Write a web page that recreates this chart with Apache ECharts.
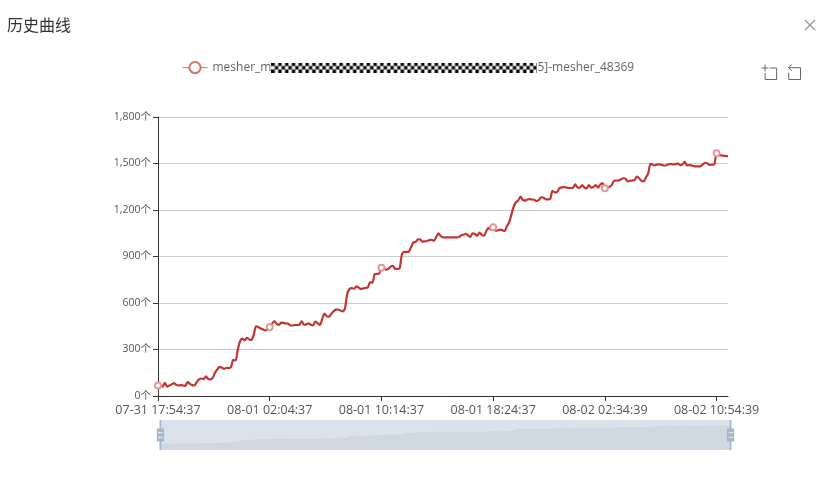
<!DOCTYPE html>
<html><head><meta charset="utf-8">
<style>html,body{margin:0;padding:0;background:#fff}#c{width:836px;height:488px}</style>
<script src="https://cdn.jsdelivr.net/npm/echarts@6/dist/echarts.min.js"></script>
</head><body><div id="c"></div>
<script>
const titleText = '历史曲线';
const seriesName = 'mesher_m…5]-mesher_48369';
const legendHead = 'mesher_m';
const legendTail = '5]-mesher_48369';
const startLabel = '2024-07-31T17:54:37';
const yTicks = [0, 300, 600, 900, 1200, 1500, 1800];
const values0 = [68,68,60,85,60,68,75,83,72,68,70,68,65,92,78,70,68,90,107,113,109,126,110,107,118,150,171,188,184,175,182,180,186,233,228,300,353,370,360,375,365,362,396,450,445,436,430,424,430];
const values1 = [445,465,484,465,458,474,472,468,467,456,455,458,458,460,482,460,462,469,460,456,480,470,458,495,531,514,512,530,546,557,558,552,546,565,660,690,696,692,707,700,690,694,698,700,735,730,785,788,790,827,825,815,820,835,840,820,820,825,915,930,930,932,960,990,994,1010,1010,996,998,1000,1006,1008,1000,1025,1050,1032,1023,1023,1023,1023,1023,1023,1023,1025,1038,1040,1046,1035,1027,1050,1045,1034,1055,1040,1034,1065,1085,1074,1089,1066];
const values2 = [1068,1074,1070,1064,1095,1120,1170,1222,1250,1262,1287,1265,1260,1268,1270,1268,1266,1258,1265,1282,1280,1270,1268,1270,1323,1314,1315,1340,1346,1347,1345,1343,1342,1343,1365,1345,1345,1360,1345,1340,1360,1345,1350,1360,1345,1365,1374,1340,1343,1350,1360,1389,1390,1391,1397,1405,1402,1385,1388,1391,1393,1415,1405,1388,1385,1410,1436,1498,1492,1487,1495,1495,1490,1487,1489,1495,1497,1494,1496,1500,1490,1495,1511,1488,1490,1488,1483,1482,1482,1483,1495,1505,1500,1491,1492,1494,1566,1555,1552,1550,1548,1546];
const values = values0.concat(values1, values2);

const pad = n => String(n).padStart(2, '0');
const categories = values.map((_, i) => {
  const extraMin = i > 196 ? 10 : 0, extraSec = i >= 190 ? 2 : 0;
  const d = new Date(new Date(startLabel).getTime() + (i * 10 + extraMin) * 60000 + extraSec * 1000);
  return pad(d.getMonth() + 1) + '-' + pad(d.getDate()) + ' ' + pad(d.getHours()) + ':' + pad(d.getMinutes()) + ':' + pad(d.getSeconds());
});

// checker mask used inside the legend label
const maskW = 266, maskH = 10, cell = 3.4;
const mask = document.createElement('canvas');
mask.width = maskW; mask.height = maskH;
const g = mask.getContext('2d');
g.fillStyle = '#fff'; g.fillRect(0, 0, maskW, maskH);
g.fillStyle = '#000';
for (let r = 0; r < 3; r++) for (let k = 0; k * cell < maskW; k++) if ((r + k) % 2 === 0) g.fillRect(k * cell, r * cell, cell, cell);

const chart = echarts.init(document.getElementById('c'), null, {renderer: 'canvas'});
const font = '"Open Sans","Noto Sans CJK SC",sans-serif';
chart.setOption({
  animation: false,
  backgroundColor: '#fff',
  textStyle: {fontFamily: font},
  title: {text: titleText, left: 2, top: 12, textStyle: {fontSize: 16, fontWeight: 'normal', color: '#333', fontFamily: '"Noto Sans CJK SC",sans-serif'}},
  legend: {
    top: 56, left: 177, itemWidth: 25, itemHeight: 14, itemGap: 10,
    data: [seriesName],
    lineStyle: {width: 1, color: '#d9706c'},
    itemStyle: {color: '#d9706c', borderColor: '#d9706c', borderWidth: 1},
    formatter: () => '{a|' + legendHead + '}{m|}{b|' + legendTail + '}',
    textStyle: {
      color: '#666', fontSize: 12,
      rich: {
        a: {fontSize: 12, color: '#666', fontFamily: font},
        b: {fontSize: 12, color: '#666', fontFamily: font},
        m: {width: maskW, height: maskH, backgroundColor: {image: mask}}
      }
    }
  },
  toolbox: {
    right: 18, top: 47, itemSize: 15, itemGap: 7,
    iconStyle: {borderColor: '#666', borderWidth: 1},
    feature: {dataZoom: {yAxisIndex: 'none', title: {zoom: '区域缩放', back: '区域缩放还原'}}}
  },
  grid: {left: 158, right: 108, top: 117, bottom: 92},
  xAxis: {
    type: 'category', boundaryGap: false, data: categories,
    axisLine: {lineStyle: {color: '#333', width: 1}},
    axisTick: {show: true, interval: 48, length: 5, lineStyle: {color: '#333'}},
    axisLabel: {interval: 48, color: '#555', fontSize: 12.5, margin: 8, hideOverlap: false},
    splitLine: {show: false}
  },
  yAxis: {
    type: 'value', min: yTicks[0], max: yTicks[yTicks.length - 1], interval: yTicks[1] - yTicks[0],
    axisLine: {show: true, lineStyle: {color: '#333', width: 1}},
    axisTick: {show: true, length: 5, lineStyle: {color: '#333'}},
    axisLabel: {color: '#555', fontSize: 10.5, margin: 7, formatter: v => v.toLocaleString('en-US') + '个'},
    splitLine: {show: true, lineStyle: {color: '#ccc', width: 1}}
  },
  dataZoom: [{
    type: 'slider', xAxisIndex: 0, start: 0, end: 100,
    left: 157, right: 107, top: 420, height: 30,
    borderColor: 'transparent', backgroundColor: 'rgba(47,69,84,0)',
    fillerColor: 'rgba(167,183,204,0.4)',
    showDetail: false, brushSelect: false, moveHandleSize: 0,
    handleIcon: 'M8.2,13.6V3.9H6.3v9.7H3.1v14.9h3.3v9.7h1.8v-9.7h3.3V13.6H8.2z M9.7,24.4H4.8v-1.4h4.9V24.4z M9.7,19.1H4.8v-1.4h4.9V19.1z',
    handleSize: '100%',
    handleStyle: {color: '#a7b7cc', borderColor: '#a7b7cc', borderWidth: 0},
    dataBackground: {lineStyle: {color: '#2f4554', opacity: 0.12, width: 0.5}, areaStyle: {color: 'rgba(47,69,84,0.3)', opacity: 0.3}},
    selectedDataBackground: {lineStyle: {color: '#2f4554', opacity: 0.12, width: 0.5}, areaStyle: {color: 'rgba(47,69,84,0.3)', opacity: 0.3}}
  }],
  graphic: [
    {type: 'line', shape: {x1: 805, y1: 20, x2: 815, y2: 30}, style: {stroke: '#999', lineWidth: 1.2}},
    {type: 'line', shape: {x1: 815, y1: 20, x2: 805, y2: 30}, style: {stroke: '#999', lineWidth: 1.2}}
  ],
  series: [{
    name: seriesName, type: 'line', data: values, smooth: 0.25,
    symbol: 'emptyCircle', symbolSize: 6,
    itemStyle: {color: '#e39a97', borderColor: '#e39a97', borderWidth: 0.8},
    lineStyle: {color: '#c23531', width: 2.2}
  }]
});
</script></body></html>
